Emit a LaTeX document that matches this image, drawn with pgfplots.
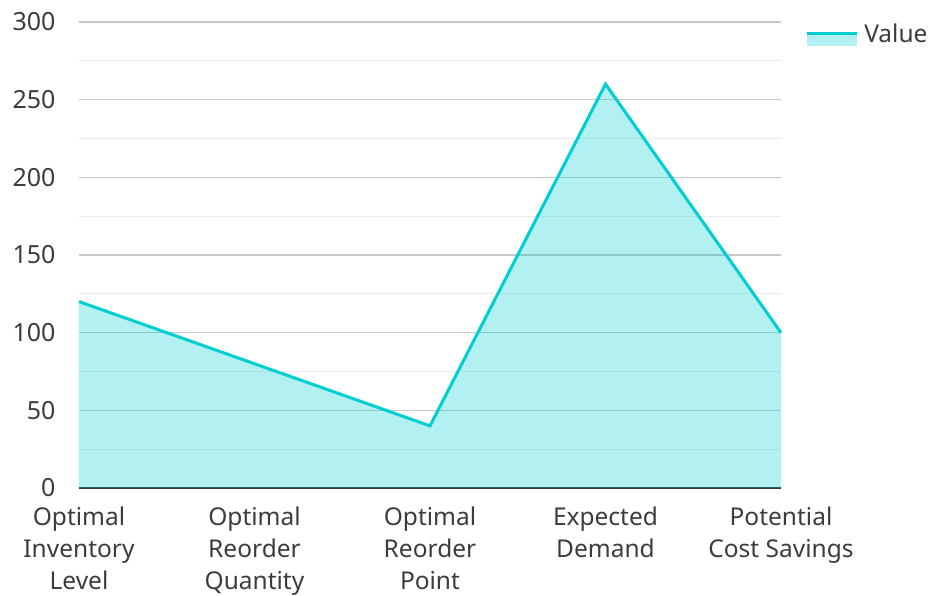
\documentclass[border=0pt]{standalone}
\usepackage{fontspec}
\setmainfont{Noto Sans}
\usepackage{pgfplots}
\pgfplotsset{compat=1.18}
\definecolor{lc}{RGB}{0,206,209}
\definecolor{gmaj}{RGB}{200,200,200}
\definecolor{gmin}{RGB}{235,235,235}
\definecolor{txt}{RGB}{60,60,60}
\begin{document}
\begin{tikzpicture}
\begin{axis}[
  at={(0,0)}, anchor=south west,
  scale only axis, width=702pt, height=466pt,
  xmin=0, xmax=4, ymin=0, ymax=300,
  xtick={0,1,2,3,4},
  xticklabels={{Optimal\\Inventory\\Level},{Optimal\\Reorder\\Quantity},{Optimal\\Reorder\\Point},{Expected\\Demand},{Potential\\Cost Savings}},
  xticklabel style={align=center, font=\fontsize{24.5}{32}\selectfont, text=txt, yshift=-15pt},
  ytick={0,50,...,300},
  minor ytick={25,75,...,275},
  yticklabel style={font=\fontsize{25}{28}\selectfont, text=txt, xshift=-20pt},
  /pgf/number format/assume math mode=true,
  ymajorgrids, yminorgrids,
  major grid style={gmaj, line width=1.3pt},
  minor grid style={gmin, line width=1.3pt},
  axis x line*=bottom, axis y line*=left,
  x axis line style={draw=black!80, line width=1.8pt, -},
  y axis line style={draw=none},
  major tick length=0pt, minor tick length=0pt,
  legend style={at={(1.03,1.005)}, anchor=north west, draw=none, fill=none,
    font=\fontsize{24.5}{28}\selectfont, text=txt},
  legend image code/.code={
    \path[fill=lc, fill opacity=0.3, draw=none] (0pt,-12pt) rectangle (50pt,0pt);
    \path[draw=lc, line width=3pt, fill=none] (0pt,0pt) -- (50pt,0pt);
    \path (54pt,0pt);
  },
  clip=false,
]
\addplot[draw=none, fill=lc, fill opacity=0.3, forget plot] coordinates {
  (0,120) (1,80) (2,40) (3,260) (4,100)
} \closedcycle;
\addplot[draw=lc, line width=3pt, line join=miter] coordinates {
  (0,120) (1,80) (2,40) (3,260) (4,100)
};
\addlegendentry{Value}
\end{axis}
\pgfresetboundingbox
\path[use as bounding box] (-79pt,-107pt) rectangle (851pt,488pt);
\end{tikzpicture}
\end{document}
